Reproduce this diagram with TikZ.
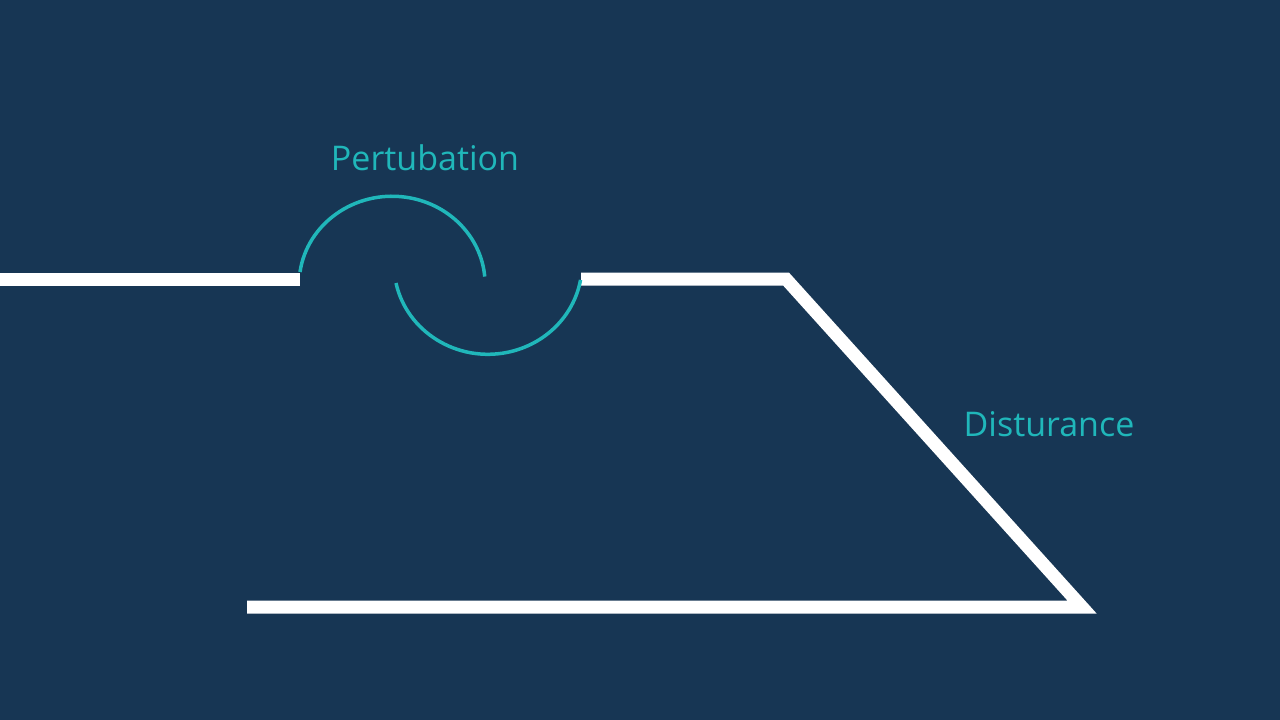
\documentclass[tikz,border=0pt]{standalone}
\usepackage{fontspec}
\setmainfont{Open Sans}
\definecolor{bg}{HTML}{173654}
\definecolor{teal}{HTML}{20B7BA}
\begin{document}
\begin{tikzpicture}[x=1pt,y=-1pt,
  wire/.style={white,line width=13pt,line join=miter},
  arcline/.style={teal,line width=3.5pt},
  lbl/.style={teal,font=\fontsize{34}{40}\selectfont,inner sep=0pt}]
\fill[bg] (0,0) rectangle (1280,720);
\useasboundingbox (0,0) rectangle (1280,720);
\coordinate (a0) at (0,279);
\coordinate (a1) at (300,279);
\coordinate (b0) at (581,279);
\coordinate (b1) at (786,279);
\coordinate (b2) at (1082,607);
\coordinate (b3) at (247,607);
\draw[wire] (a0) -- (a1);
\draw[wire] (b0) -- (b1) -- (b2) -- (b3);
\draw[arcline] (300,272) arc[start angle=172,end angle=5,x radius=93,y radius=-88];
\draw[arcline] (396,283) arc[start angle=-168,end angle=-10,x radius=94,y radius=-90];
\node[lbl] (p) at (425,158) {Pertubation};
\node[lbl] (d) at (1049,424) {Disturance};
\end{tikzpicture}
\end{document}
